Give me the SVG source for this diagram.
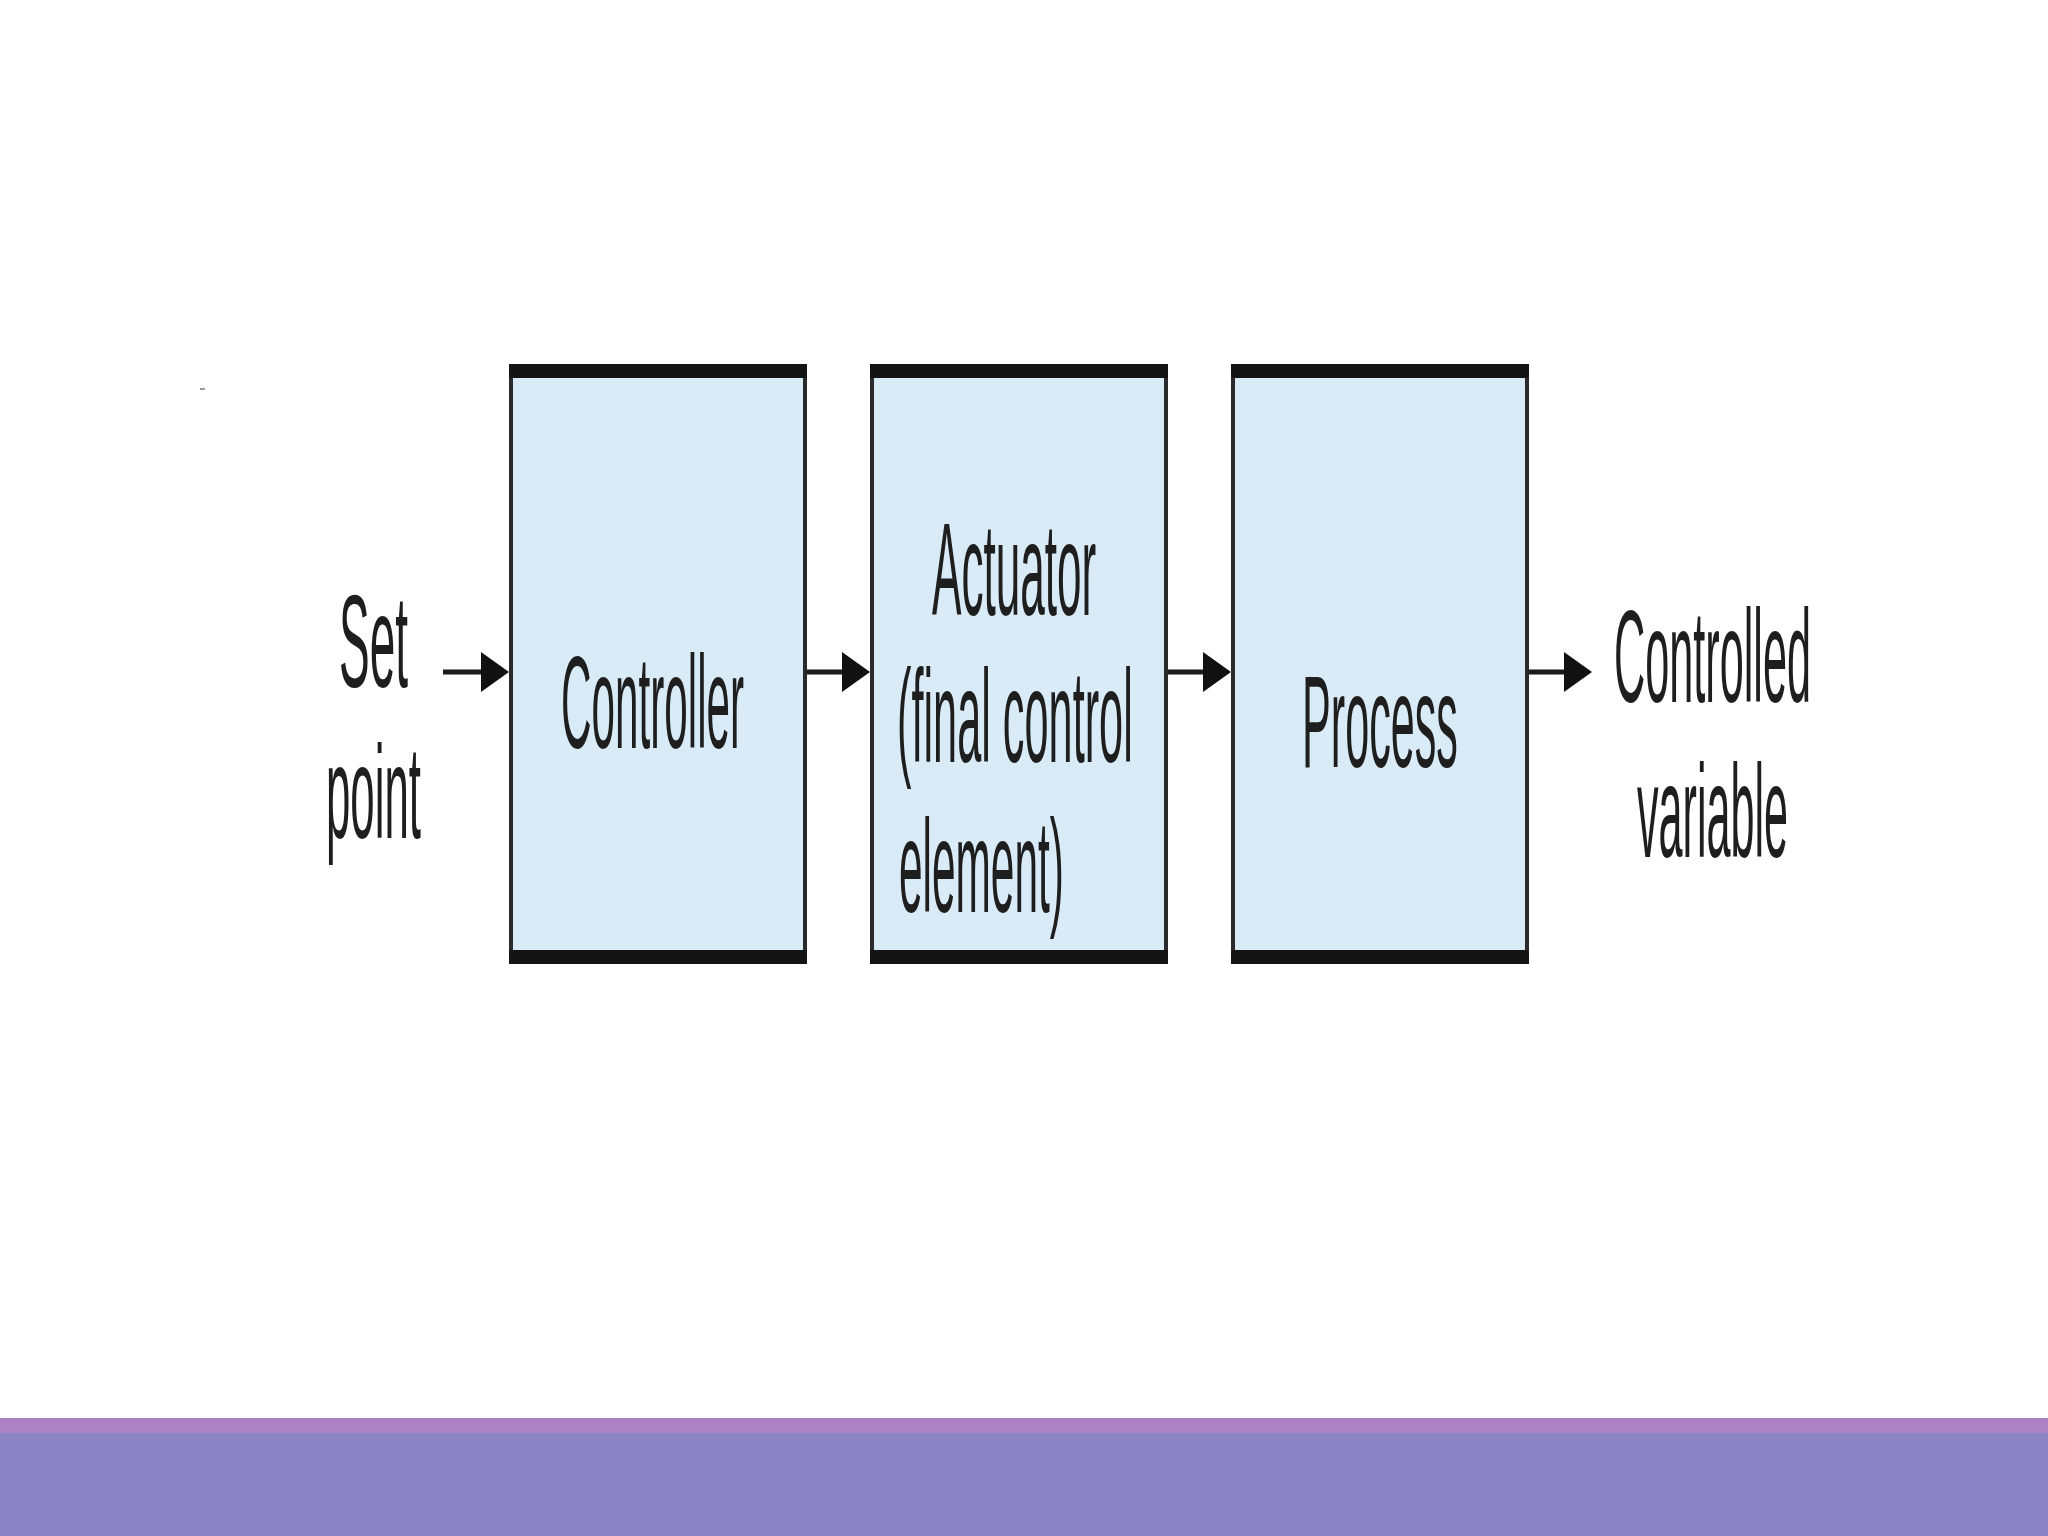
<svg xmlns="http://www.w3.org/2000/svg" width="2048" height="1536" viewBox="0 0 2048 1536">
  <style>
    .box { fill: #DAEBF8; stroke: #2a2a2a; stroke-width: 4; }
    .bar { fill: #141414; }
    .lbl { font-family: "Liberation Sans", Arial, sans-serif; font-size: 132px; fill: #1e1e1e; }
    .conn { stroke: #1a1a1a; stroke-width: 5; fill: none; marker-end: url(#arrow); }
  </style>
  <defs>
    <marker id="arrow" markerUnits="userSpaceOnUse" markerWidth="28" markerHeight="40" viewBox="0 0 28 40" refX="18" refY="20" orient="auto">
      <path d="M0,0 L28,20 L0,40 Z" fill="#111"/>
    </marker>
  </defs>
  <rect x="0" y="0" width="2048" height="1536" fill="#FFFFFF"/>

  <!-- stray mark -->
  <rect x="200" y="388" width="5" height="2" fill="#9a9a9a"/>

  <g id="node-setpoint">
    <text class="lbl" transform="translate(339,687) scale(0.348,1)">Set</text>
    <text class="lbl" transform="translate(326,838) scale(0.332,1)">point</text>
  </g>

  <g id="node-controller">
    <rect class="box" x="511" y="366" width="294" height="596"/>
    <rect class="bar" x="509" y="364" width="298" height="14"/>
    <rect class="bar" x="509" y="950" width="298" height="14"/>
    <text class="lbl" transform="translate(561,748) scale(0.320,1)">Controller</text>
  </g>

  <g id="node-actuator">
    <rect class="box" x="872" y="366" width="294" height="596"/>
    <rect class="bar" x="870" y="364" width="298" height="14"/>
    <rect class="bar" x="870" y="950" width="298" height="14"/>
    <text class="lbl" transform="translate(932,615) scale(0.334,1)">Actuator</text>
    <text class="lbl" transform="translate(897,762) scale(0.328,1)">(final control</text>
    <text class="lbl" transform="translate(899,912) scale(0.321,1)">element)</text>
  </g>

  <g id="node-process">
    <rect class="box" x="1233" y="366" width="294" height="596"/>
    <rect class="bar" x="1231" y="364" width="298" height="14"/>
    <rect class="bar" x="1231" y="950" width="298" height="14"/>
    <text class="lbl" transform="translate(1302,767) scale(0.327,1)">Process</text>
  </g>

  <g id="node-output">
    <text class="lbl" transform="translate(1614,702) scale(0.3275,1)">Controlled</text>
    <text class="lbl" transform="translate(1637,857) scale(0.3268,1)">variable</text>
  </g>

  <g id="connectors">
    <line class="conn" x1="443" y1="672" x2="499" y2="672"/>
    <line class="conn" x1="807" y1="672" x2="860" y2="672"/>
    <line class="conn" x1="1168" y1="672" x2="1221" y2="672"/>
    <line class="conn" x1="1529" y1="672" x2="1582" y2="672"/>
  </g>

  <g id="footer">
    <rect x="0" y="1418" width="2048" height="16" fill="#AB82C3"/>
    <rect x="0" y="1433" width="2048" height="103" fill="#8A84C5"/>
  </g>
</svg>
